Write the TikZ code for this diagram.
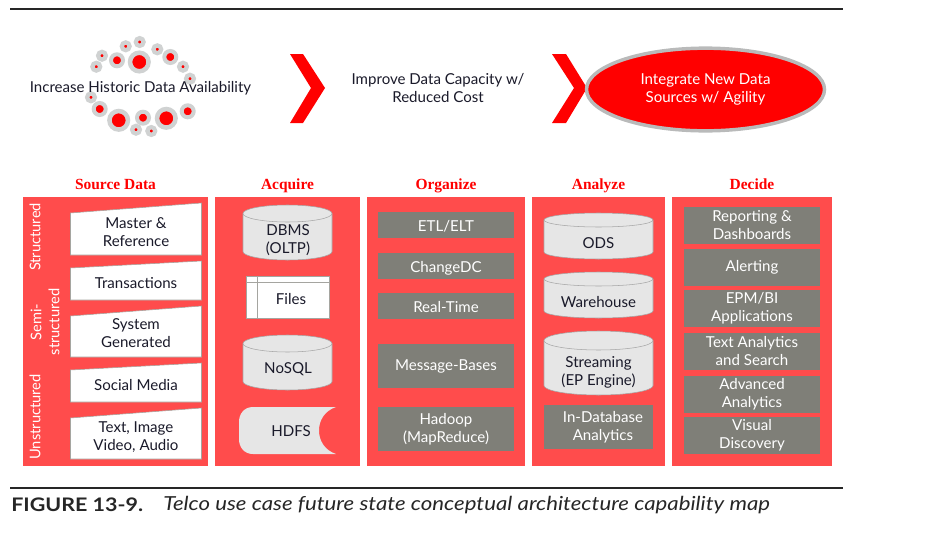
\documentclass[tikz,border=0pt]{standalone}
\usepackage{fontspec}
\setmainfont{Lato}
\newfontfamily\titlefont{Liberation Serif}
\newfontfamily\capfont[FakeStretch=1.15]{Lato}
\usetikzlibrary{positioning,shapes.geometric}
\definecolor{panelred}{HTML}{FF4C4C}
\definecolor{boxgray}{HTML}{7F7F78}
\definecolor{cylgray}{HTML}{E6E6E6}
\definecolor{dotgray}{HTML}{D0D2D2}
\definecolor{inkblue}{HTML}{1A1A2A}
% x centre, y top, y bottom, x radius, y radius
\newcommand{\drum}[5]{
  \filldraw[cyl] (#1-#4,#2+#5) arc[start angle=180, end angle=0, x radius=#4*0.75pt, y radius=#5*0.75pt] -- (#1+#4,#3-#5) arc[start angle=0, end angle=-180, x radius=#4*0.75pt, y radius=#5*0.75pt] -- cycle;
  \draw[cyl] (#1-#4,#2+#5) arc[start angle=180, end angle=360, x radius=#4*0.75pt, y radius=#5*0.75pt];
}

\begin{document}
\begin{tikzpicture}[x=0.75pt, y=-0.75pt,
  txt/.style = {align=center, text=inkblue, font=\fontsize{11.3}{13.5}\selectfont},
  panel/.style = {fill=panelred, minimum height=201.75pt, inner sep=0pt},
  heading/.style = {text=red, font=\titlefont\bfseries\fontsize{11.6}{13}\selectfont, text height=8pt, text depth=2.5pt, inner sep=0pt},
  side/.style = {rotate=90, align=center, text=white, font=\fontsize{11}{13.5}\selectfont},
  srcbox/.style = {fill=white, draw=boxgray!70, line width=0.4pt},
  graybox/.style = {fill=boxgray, text=white, align=center, inner sep=0pt, minimum width=102pt, font=\fontsize{11.3}{13.5}\selectfont},
  oneline/.style = {text height=10pt, text depth=0pt},
  decbox/.style = {graybox, minimum height=27.75pt},
  cyl/.style = {draw=gray!70, line width=0.4pt, fill=cylgray},
  dotS/.style = {circle, fill=red, draw=dotgray, inner sep=0pt, outer sep=0pt, minimum size=5.8pt, line width=3.2pt},
  dotM/.style = {circle, fill=red, draw=dotgray, inner sep=0pt, outer sep=0pt, minimum size=9pt, line width=3pt},
  dotL/.style = {circle, fill=red, draw=dotgray, inner sep=0pt, outer sep=0pt, minimum size=13.9pt, line width=3.4pt}]
\useasboundingbox (0,0) rectangle (925,550);

\draw[line width=1.5pt, black!85] (10,9) -- (843,9);
\draw[line width=1.5pt, black!85] (10,488) -- (843,488);

\node[dotS] (d1) at (96.3,66.7) {};
\node[dotS] (d2) at (102,55.7) {};
\node[dotM] (d3) at (117,60.3) {};
\node[dotS] (d4) at (125.7,46.3) {};
\node[dotS] (d5) at (139.7,42) {};
\node[dotL] (d6) at (139.3,62) {};
\node[dotS] (d7) at (157.3,49.3) {};
\node[dotM] (d8) at (170.3,57) {};
\node[dotS] (d9) at (183,66.7) {};
\node[dotS] (d10) at (190,78.7) {};
\node[dotS] (d11) at (91,97.3) {};
\node[dotM] (d12) at (99.7,109) {};
\node[dotL] (d13) at (118.7,120.3) {};
\node[dotM] (d14) at (143,117.7) {};
\node[dotS] (d15) at (136,129.7) {};
\node[dotS] (d16) at (151.3,131) {};
\node[dotL] (d17) at (166.3,118.3) {};
\node[dotM] (d18) at (187.7,111.3) {};
\node[txt] (hist) at (140.5,88.7) {Increase Historic Data Availability};

\fill[red] (290,54) -- (303,54) -- (325,88) -- (303,123) -- (290,123) -- (311,88) -- cycle;
\node[txt] (capacity) at (438,88) {Improve Data Capacity w/\\Reduced Cost};
\fill[red] (552,54) -- (566,54) -- (587,88) -- (566,123) -- (552,123) -- (574,88) -- cycle;
\node[ellipse, fill=red, draw=dotgray!85!black!90, line width=2.6pt, minimum width=178.5pt, minimum height=62pt, inner sep=0pt, align=center, text=white, font=\fontsize{11.3}{13.5}\selectfont] (agile) at (705.5,89.5) {Integrate New Data\\Sources w/ Agility};

\node[panel, minimum width=138.75pt] (source) at (115.5,331.5) {};
\node[panel, minimum width=108.75pt] (acquire) at (287.5,331.5) {};
\node[panel, minimum width=118.5pt] (organize) at (446,331.5) {};
\node[panel, minimum width=99.75pt] (analyze) at (598.5,331.5) {};
\node[panel, minimum width=120pt] (decide) at (752,331.5) {};

\node[heading, above=3pt of source] (t1) {Source Data};
\node[heading, above=3pt of acquire] (t2) {Acquire};
\node[heading, above=3pt of organize] (t3) {Organize};
\node[heading, above=3pt of analyze] (t4) {Analyze};
\node[heading, above=3pt of decide] (t5) {Decide};

\node[side] (s1) at (35,237) {Structured};
\node[side] (s2) at (45,322) {Semi-\\structured};
\node[side] (s3) at (35,417) {Unstructured};

\draw[srcbox] (70.5,213) -- (201.5,203) -- (201.5,255) -- (70.5,255) -- cycle;
\node[txt] (master) at (136,232) {Master \&\\Reference};
\draw[srcbox] (70.5,268) -- (201.5,261) -- (201.5,300) -- (70.5,300) -- cycle;
\node[txt] (trans) at (136,283) {Transactions};
\draw[srcbox] (70.5,316) -- (201.5,306) -- (201.5,357) -- (70.5,357) -- cycle;
\node[txt] (system) at (136,333) {System\\Generated};
\draw[srcbox] (70.5,370) -- (201.5,363) -- (201.5,402) -- (70.5,402) -- cycle;
\node[txt] (social) at (136,385) {Social Media};
\draw[srcbox] (70.5,418) -- (201.5,408) -- (201.5,459) -- (70.5,459) -- cycle;
\node[txt] (media) at (136,437) {Text, Image\\Video, Audio};

\drum{287.5}{205}{260}{44.5}{8.5}
\node[txt] (dbms) at (288,240) {DBMS\\(OLTP)};
\node[rectangle, fill=white, draw=boxgray!70, line width=0.4pt, minimum width=62.25pt, minimum height=31.5pt, inner sep=0pt] (filesbox) at (287.5,297) {};
\draw[boxgray!70, line width=0.4pt] (246,282) -- (329,282);
\draw[boxgray!70, line width=0.4pt] (257,276) -- (257,318);
\node[txt] (files) at (291,299) {Files};
\drum{287.5}{335}{390}{44.5}{8.5}
\node[txt] (nosql) at (288,369) {NoSQL};
\fill[cylgray] (336,407) -- (253,407) .. controls (244,407) and (239,414) .. (239,422) -- (239,439) .. controls (239,447) and (244,454) .. (253,454) -- (336,454) .. controls (324,450) and (319,440) .. (319,430.5) .. controls (319,421) and (324,411) .. (336,407) -- cycle;
\node[txt] (hdfs) at (291,431) {HDFS};

\node[graybox, oneline, minimum height=19.5pt] (etl) at (446,225) {ETL/ELT};
\node[graybox, oneline, minimum height=19.5pt] (cdc) at (446,266) {ChangeDC};
\node[graybox, oneline, minimum height=19.5pt] (rt) at (446,306) {Real-Time};
\node[graybox, minimum height=33pt] (msg) at (446,366) {Message-Bases};
\node[graybox, minimum height=33pt] (hadoop) at (446,429) {Hadoop\\(MapReduce)};

\drum{598.5}{213}{259}{54.5}{7}
\node[txt] (ods) at (598.5,243.5) {ODS};
\drum{598.5}{272}{318}{54.5}{7}
\node[txt] (ware) at (598.5,302) {Warehouse};
\drum{598.5}{331}{395}{54.5}{9.5}
\node[txt] (stream) at (598.5,372) {Streaming\\(EP Engine)};
\node[graybox, minimum width=81.75pt, minimum height=33pt] (indbbox) at (598.5,427) {};
\node[align=center, text=white, font=\fontsize{11.3}{13.5}\selectfont] (indb) at (603,427) {In-Database\\Analytics};

\node[decbox] (report) at (752,225.5) {Reporting \&\\Dashboards};
\node[decbox] (alert) at (752,267.5) {Alerting};
\node[decbox] (epm) at (752,308.5) {EPM/BI\\Applications};
\node[decbox] (textan) at (752,351.5) {Text Analytics\\and Search};
\node[decbox] (adv) at (752,394.5) {Advanced\\Analytics};
\node[decbox] (visual) at (752,435.5) {Visual\\Discovery};

\node[anchor=west, inner sep=0pt, text=black!85, font=\capfont\bfseries\fontsize{14}{15}\selectfont] (fig) at (11,505) {FIGURE 13-9.};
\node[anchor=west, inner sep=0pt, text=black!85, font=\capfont\itshape\fontsize{14.5}{15}\selectfont] (cap) at (163,505) {Telco use case future state conceptual architecture capability map};
\end{tikzpicture}
\end{document}
